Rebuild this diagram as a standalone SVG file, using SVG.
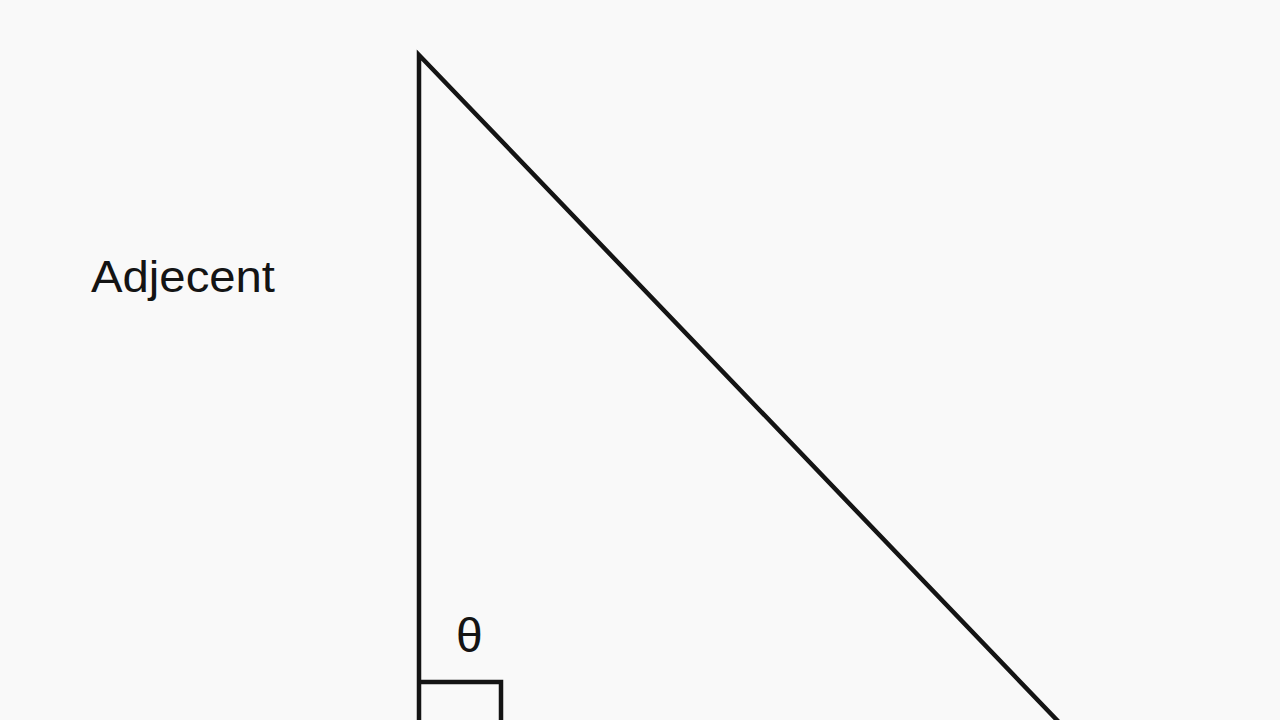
<svg xmlns="http://www.w3.org/2000/svg" width="1280" height="720" viewBox="0 0 1280 720">
<style>
.ln{fill:none;stroke:#141414;stroke-width:4.5;stroke-linejoin:miter}
.lbl{font-family:"Liberation Sans",Arial,sans-serif;fill:#141414}
</style>
<rect width="1280" height="720" fill="#f9f9f9"/>
<g id="triangle">
<path class="ln" d="M419,740 L419,55 L1077,741"/>
</g>
<g id="right-angle">
<path class="ln" d="M419,682 L501,682 L501,740"/>
</g>
<g id="label-adjacent">
<text class="lbl" x="91" y="292" font-size="45" textLength="184" lengthAdjust="spacingAndGlyphs">Adjecent</text>
</g>
<g id="label-theta">
<text class="lbl" x="456" y="652" font-size="48">θ</text>
</g>
</svg>
